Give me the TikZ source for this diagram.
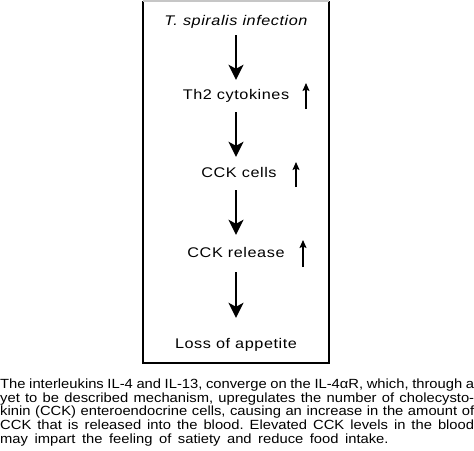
\documentclass[tikz,border=0pt]{standalone}
\usepackage{fontspec}
\setmainfont{Liberation Sans}
\newfontfamily\labfont[FakeStretch=1.16,LetterSpace=4]{Liberation Sans}
\newfontfamily\capfont[FakeStretch=1.11]{Liberation Sans}
\usetikzlibrary{arrows.meta}
\begin{document}
\begin{tikzpicture}[x=1pt,y=1pt,
  lab/.style={font=\labfont\fontsize{14}{17}\selectfont, inner sep=0pt, text height=10pt, text depth=0pt, anchor=base},
  flow/.style={line width=2.5pt, -{Stealth[length=15pt,width=15pt,inset=4pt]}},
  uparrow/.style={line width=1.3pt, -{Stealth[length=8pt,width=7pt,inset=1.5pt]}},
  boxline/.style={line width=1.2pt},
  capt/.style={font=\capfont\fontsize{13.3}{13.8}\selectfont, inner sep=0pt, text width=474pt, align=left, anchor=north west}]
\useasboundingbox (0,0) rectangle (474,-450);
% frame
\coordinate (tl) at (143,-1);
\coordinate (tr) at (329,-1);
\coordinate (bl) at (143,-363);
\coordinate (br) at (329,-363);
\draw[boxline] (tl) -- (bl) -- (br) -- (tr);
\draw[gray!45, line width=1.5pt] (tl) -- (tr);
% labels
\node[lab] (t1) at (236,-25) {\itshape T. spiralis infection};
\node[lab] (t2) at (236,-99) {Th2 cytokines};
\node[lab] (t3) at (239,-177) {CCK cells};
\node[lab] (t4) at (236,-257) {CCK release};
\node[lab] (t5) at (236,-348) {Loss of appetite};
% flow arrows
\draw[flow, shorten <=10pt, shorten >=9pt] (t1.south) -- (t1.south |- t2.north);
\draw[flow, shorten <=13pt, shorten >=10pt] (t1.south |- t2.south) -- (t1.south |- t3.north);
\draw[flow, shorten <=13pt, shorten >=12pt] (t1.south |- t3.south) -- (t1.south |- t4.north);
\draw[flow, shorten <=15pt, shorten >=20pt] (t4.south) -- (t5.north);
% up arrows
\coordinate (u1a) at (306,-109); \coordinate (u1b) at (306,-83);
\coordinate (u2a) at (296,-187); \coordinate (u2b) at (296,-162);
\coordinate (u3a) at (303,-267); \coordinate (u3b) at (303,-240);
\draw[uparrow] (u1a) -- (u1b);
\draw[uparrow] (u2a) -- (u2b);
\draw[uparrow] (u3a) -- (u3b);
% caption
\node[capt] (cap) at (0,-378.5) {\frenchspacing\spaceskip=6.5pt plus 12pt minus 4pt
\hbox to 474pt{The interleukins IL-4 and IL-13, converge on the IL-4αR, which, through a}
\hbox to 474pt{yet to be described mechanism, upregulates the number of cholecysto-}
\hbox to 474pt{kinin (CCK) enteroendocrine cells, causing an increase in the amount of}
\hbox to 474pt{CCK that is released into the blood. Elevated CCK levels in the blood}
\hbox{may impart the feeling of satiety and reduce food intake.}};
\end{tikzpicture}
\end{document}
